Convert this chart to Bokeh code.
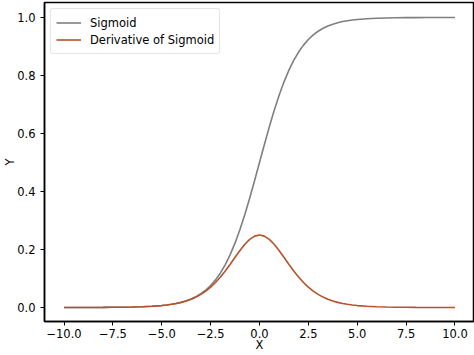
from bokeh.plotting import figure
from bokeh.models import Range1d, FixedTicker, CustomJSTickFormatter, Legend, LegendItem
from bokeh.embed import file_html
from bokeh.resources import INLINE

x_vals = [-10.0, -9.5, -9.0, -8.5, -8.0, -7.5, -7.0, -6.5, -6.0, -5.5,
          -5.0, -4.75, -4.5, -4.25, -4.0, -3.75, -3.5, -3.25, -3.0, -2.75,
          -2.5, -2.25, -2.0, -1.75, -1.5, -1.25, -1.0, -0.75, -0.5, -0.25,
          0.0, 0.25, 0.5, 0.75, 1.0, 1.25, 1.5, 1.75, 2.0, 2.25,
          2.5, 2.75, 3.0, 3.25, 3.5, 3.75, 4.0, 4.25, 4.5, 4.75,
          5.0, 5.5, 6.0, 6.5, 7.0, 7.5, 8.0, 8.5, 9.0, 9.5, 10.0]

sigmoid_vals = [0.0000, 0.0001, 0.0001, 0.0002, 0.0003, 0.0006, 0.0009, 0.0015, 0.0025, 0.0041,
                0.0067, 0.0086, 0.0110, 0.0141, 0.0180, 0.0230, 0.0293, 0.0373, 0.0474, 0.0601,
                0.0759, 0.0953, 0.1192, 0.1480, 0.1824, 0.2227, 0.2689, 0.3208, 0.3775, 0.4378,
                0.5000, 0.5622, 0.6225, 0.6792, 0.7311, 0.7773, 0.8176, 0.8520, 0.8808, 0.9047,
                0.9241, 0.9399, 0.9526, 0.9627, 0.9707, 0.9770, 0.9820, 0.9859, 0.9890, 0.9914,
                0.9933, 0.9959, 0.9975, 0.9985, 0.9991, 0.9994, 0.9997, 0.9998, 0.9999, 0.9999, 1.0000]

deriv_vals = [0.0000, 0.0001, 0.0001, 0.0002, 0.0003, 0.0006, 0.0009, 0.0015, 0.0025, 0.0041,
              0.0066, 0.0085, 0.0109, 0.0139, 0.0177, 0.0225, 0.0285, 0.0359, 0.0452, 0.0565,
              0.0701, 0.0862, 0.1050, 0.1261, 0.1491, 0.1731, 0.1966, 0.2179, 0.2350, 0.2461,
              0.2500, 0.2461, 0.2350, 0.2179, 0.1966, 0.1731, 0.1491, 0.1261, 0.1050, 0.0862,
              0.0701, 0.0565, 0.0452, 0.0359, 0.0285, 0.0225, 0.0177, 0.0139, 0.0109, 0.0085,
              0.0066, 0.0041, 0.0025, 0.0015, 0.0009, 0.0006, 0.0003, 0.0002, 0.0001, 0.0001, 0.0000]

x_ticks = [-10.0, -7.5, -5.0, -2.5, 0.0, 2.5, 5.0, 7.5, 10.0]
y_ticks = [0.0, 0.2, 0.4, 0.6, 0.8, 1.0]
series_labels = ["Sigmoid", "Derivative of Sigmoid"]

FONT = "DejaVu Sans"

p = figure(width=474, height=355, output_backend="svg", toolbar_location=None,
           x_range=Range1d(-11, 11), y_range=Range1d(-0.0483, 1.0517),
           min_border_left=44, min_border_right=0, min_border_top=2, min_border_bottom=34)

r1 = p.line(x_vals, sigmoid_vals, line_color="#7f7f7f", line_width=1.6)
r2 = p.line(x_vals, deriv_vals, line_color="#b5522a", line_width=1.6)

p.xgrid.visible = False
p.ygrid.visible = False
p.outline_line_color = "black"
p.outline_line_width = 1.5

p.xaxis.ticker = FixedTicker(ticks=x_ticks)
p.yaxis.ticker = FixedTicker(ticks=y_ticks)
p.xaxis.formatter = CustomJSTickFormatter(code="return tick.toFixed(1).replace('-', '\u2212');")
p.yaxis.formatter = CustomJSTickFormatter(code="return tick.toFixed(1);")
p.xaxis.axis_label = "X"
p.yaxis.axis_label = "Y"
for ax in (p.xaxis[0], p.yaxis[0]):
    ax.minor_tick_line_color = None
    ax.major_tick_in = 0
    ax.major_tick_out = 4
    ax.major_tick_line_color = "black"
    ax.axis_line_color = "black"
    ax.axis_line_width = 1.5
    ax.major_label_text_font = FONT
    ax.major_label_text_font_size = "11.5px"
    ax.major_label_text_color = "black"
    ax.axis_label_text_font = FONT
    ax.axis_label_text_font_size = "11.5px"
    ax.axis_label_text_font_style = "normal"
    ax.axis_label_text_color = "black"
    ax.major_label_standoff = 5
    ax.axis_label_standoff = 2
p.yaxis[0].axis_label_standoff = -3
p.xaxis[0].major_label_standoff = 3
p.xaxis[0].axis_label_standoff = -3

legend = Legend(items=[LegendItem(label=series_labels[0], renderers=[r1]),
                       LegendItem(label=series_labels[1], renderers=[r2])],
                location="top_left")
legend.label_text_font = FONT
legend.label_text_font_size = "11.5px"
legend.label_text_color = "black"
legend.border_line_color = "#cccccc"
legend.border_line_width = 1
legend.border_radius = 3
legend.background_fill_alpha = 0.8
legend.margin = 6
legend.padding = 5
legend.spacing = 0
legend.label_height = 17
legend.glyph_height = 17
legend.glyph_width = 25
legend.label_standoff = 9
p.add_layout(legend)

open("out.html", "w").write(file_html(p, INLINE))
